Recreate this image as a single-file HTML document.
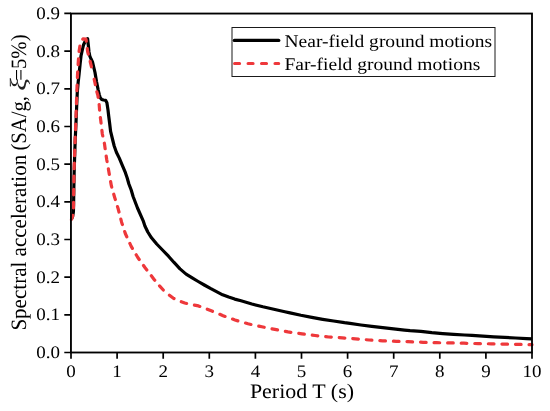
<!DOCTYPE html>
<html><head><meta charset="utf-8"><style>
html,body{margin:0;padding:0;background:#fff;}
svg{display:block;}
</style></head><body>
<svg width="550" height="411" viewBox="0 0 550 411" style="font-family:'Liberation Serif','Times New Roman',serif;text-rendering:geometricPrecision">
<rect width="550" height="411" fill="#fff"/>
<path d="M71.40,219.50 L72.60,216.50 L73.40,212.00 L73.60,205.00 L73.80,190.00 L74.20,170.00 L74.70,155.00 L75.20,140.00 L75.90,125.00 L76.60,108.00 L77.30,92.00 L78.20,82.00 L79.10,74.00 L80.10,64.00 L81.00,56.00 L82.30,50.00 L83.50,45.00 L85.30,41.00 L87.60,38.60 L88.30,45.00 L89.00,52.00 L89.80,56.00 L91.20,59.30 L92.60,62.30 L93.70,67.00 L95.00,72.50 L96.60,82.00 L98.20,90.00 L99.30,94.60 L100.10,97.40 L101.70,99.40 L103.50,100.00 L105.60,100.30 L106.90,102.80 L108.00,110.00 L108.70,116.00 L109.60,123.00 L110.60,131.40 L112.70,140.00 L114.20,146.00 L116.40,152.20 L119.30,158.10 L121.90,164.30 L125.40,172.70 L127.20,178.00 L128.90,184.00 L131.20,190.00 L133.10,196.50 L137.50,208.00 L143.20,220.80 L144.90,226.00 L147.80,232.00 L151.50,237.80 L156.70,244.00 L162.50,250.00 L168.50,256.20 L173.80,262.20 L180.00,268.90 L186.10,274.10 L192.20,277.90 L198.20,281.50 L204.30,285.00 L210.40,288.40 L216.50,291.60 L222.60,294.80 L228.70,297.10 L234.70,299.10 L241.00,300.80 L251.90,304.00 L262.90,306.80 L273.80,309.30 L284.80,311.70 L290.00,312.90 L300.90,315.30 L311.80,317.40 L322.70,319.30 L333.60,321.00 L344.50,322.70 L350.00,323.40 L360.90,325.00 L371.80,326.40 L382.70,327.70 L393.60,328.90 L404.50,330.10 L410.00,330.70 L420.90,331.30 L431.80,332.60 L442.70,333.60 L453.60,334.40 L464.50,335.00 L472.00,335.30 L482.90,336.10 L493.80,336.80 L504.70,337.40 L515.60,338.00 L526.50,338.60 L532.00,338.90" fill="none" stroke="#000" stroke-width="3.2" stroke-linejoin="round"/>
<path d="M71.40,219.50 L72.60,216.50 L73.30,212.00 L73.50,205.00 L73.70,190.00 L74.10,170.00 L74.60,155.00 L75.10,140.00 L75.70,125.00 L76.30,108.00 L76.80,92.00 L77.50,75.00 L78.20,63.00 L79.00,52.00 L80.00,45.50 L81.50,41.00 L83.00,38.80 L86.00,39.20 L86.90,45.00 L87.60,51.50 L89.00,57.00 L90.30,62.00 L92.00,69.00 L92.85,72.94" fill="none" stroke="#ee383b" stroke-width="3.2" stroke-dasharray="5.6 7.440" stroke-dashoffset="1.140" stroke-linecap="round" stroke-linejoin="round"/>
<path d="M92.85,72.94 L93.50,76.00 L95.20,84.00 L96.30,90.00 L97.90,95.50 L99.20,105.00 L99.90,114.30 L100.70,120.00 L102.30,133.80 L104.50,144.00 L105.60,152.00 L106.70,159.50 L108.40,169.00 L109.80,177.00 L111.30,185.50 L114.60,197.20 L118.30,209.30 L121.60,222.20 L125.30,233.50 L131.20,246.40 L137.80,257.50 L145.10,267.70 L154.10,279.40 L157.60,283.80 L165.10,292.00 L165.70,292.46" fill="none" stroke="#ee383b" stroke-width="3.2" stroke-dasharray="5.6 7.380" stroke-dashoffset="6.570" stroke-linecap="round" stroke-linejoin="round"/>
<path d="M165.70,292.46 L173.10,298.10 L178.30,300.70 L184.80,303.00 L191.00,304.60 L198.50,305.90 L204.00,307.90 L210.60,310.50 L223.10,315.70 L235.00,320.00 L248.00,323.80 L261.80,326.80 L274.90,329.40 L288.00,331.90 L302.00,333.90 L315.10,335.50 L328.70,337.00 L342.30,337.90 L355.50,338.80 L369.10,340.00 L382.70,340.80 L396.30,341.30 L408.00,341.60 L423.10,342.30 L436.70,342.70 L450.30,342.90 L464.00,343.20 L478.00,343.60 L491.10,343.80 L504.70,344.10 L518.30,344.40 L532.00,344.70" fill="none" stroke="#ee383b" stroke-width="3.2" stroke-dasharray="5.6 7.970" stroke-dashoffset="8.860" stroke-linecap="round" stroke-linejoin="round"/>
<rect x="70.95" y="13.55" width="461.05" height="338.95" fill="none" stroke="#000" stroke-width="1.85"/>
<path d="M64.3,352.50 H71 M64.3,314.83 H71 M64.3,277.16 H71 M64.3,239.49 H71 M64.3,201.82 H71 M64.3,164.15 H71 M64.3,126.48 H71 M64.3,88.81 H71 M64.3,51.14 H71 M64.3,13.47 H71 M71.00,352.50 V358.8 M117.10,352.50 V358.8 M163.20,352.50 V358.8 M209.30,352.50 V358.8 M255.40,352.50 V358.8 M301.50,352.50 V358.8 M347.60,352.50 V358.8 M393.70,352.50 V358.8 M439.80,352.50 V358.8 M485.90,352.50 V358.8 M532.00,352.50 V358.8" stroke="#000" stroke-width="1.7" fill="none"/>
<g fill="#000">
<text transform="translate(60.1,358.00) scale(1.08,1)" text-anchor="end" font-size="17.6">0.0</text>
<text transform="translate(60.1,320.33) scale(1.08,1)" text-anchor="end" font-size="17.6">0.1</text>
<text transform="translate(60.1,282.66) scale(1.08,1)" text-anchor="end" font-size="17.6">0.2</text>
<text transform="translate(60.1,244.99) scale(1.08,1)" text-anchor="end" font-size="17.6">0.3</text>
<text transform="translate(60.1,207.32) scale(1.08,1)" text-anchor="end" font-size="17.6">0.4</text>
<text transform="translate(60.1,169.65) scale(1.08,1)" text-anchor="end" font-size="17.6">0.5</text>
<text transform="translate(60.1,131.98) scale(1.08,1)" text-anchor="end" font-size="17.6">0.6</text>
<text transform="translate(60.1,94.31) scale(1.08,1)" text-anchor="end" font-size="17.6">0.7</text>
<text transform="translate(60.1,56.64) scale(1.08,1)" text-anchor="end" font-size="17.6">0.8</text>
<text transform="translate(60.1,18.97) scale(1.08,1)" text-anchor="end" font-size="17.6">0.9</text>
<text transform="translate(71.00,376.8) scale(1.08,1)" text-anchor="middle" font-size="17.6">0</text>
<text transform="translate(117.10,376.8) scale(1.08,1)" text-anchor="middle" font-size="17.6">1</text>
<text transform="translate(163.20,376.8) scale(1.08,1)" text-anchor="middle" font-size="17.6">2</text>
<text transform="translate(209.30,376.8) scale(1.08,1)" text-anchor="middle" font-size="17.6">3</text>
<text transform="translate(255.40,376.8) scale(1.08,1)" text-anchor="middle" font-size="17.6">4</text>
<text transform="translate(301.50,376.8) scale(1.08,1)" text-anchor="middle" font-size="17.6">5</text>
<text transform="translate(347.60,376.8) scale(1.08,1)" text-anchor="middle" font-size="17.6">6</text>
<text transform="translate(393.70,376.8) scale(1.08,1)" text-anchor="middle" font-size="17.6">7</text>
<text transform="translate(439.80,376.8) scale(1.08,1)" text-anchor="middle" font-size="17.6">8</text>
<text transform="translate(485.90,376.8) scale(1.08,1)" text-anchor="middle" font-size="17.6">9</text>
<text transform="translate(532.00,376.8) scale(1.08,1)" text-anchor="middle" font-size="17.6">10</text>
<text transform="translate(249.9,398.3) scale(1.071,1)" font-size="20.5">Period T (s)</text>
<text transform="translate(25.5,330.6) scale(1.084,1) rotate(-90) scale(1.042,1)" font-size="20.2">Spectral acceleration</text>
<text transform="translate(25.5,150.5) scale(1.084,1) rotate(-90) scale(1.02,1)" font-size="20.2">(SA/g,</text>
<text transform="translate(26.0,90.8) scale(1.084,1) rotate(-90) scale(1.37,1)" font-size="21.5" font-style="italic" fill="#222">ξ</text>
<text transform="translate(25.5,80.8) scale(1.084,1) rotate(-90) scale(1.03,1)" font-size="20.2">=5%)</text>
</g>
<rect x="232" y="27.5" width="263" height="49" fill="#fff" stroke="#1a1a1a" stroke-width="1"/>
<path d="M234.4,40.4 H278.7" stroke="#000" stroke-width="3.4" stroke-linecap="round"/>
<path d="M234.6,63.45 H278.7" stroke="#ee383b" stroke-width="3.1" stroke-dasharray="5 8.47" stroke-linecap="round"/>
<text transform="translate(284.5,46.5) scale(1.097,1)" font-size="17.8">Near-field ground motions</text>
<text transform="translate(284.5,69.8) scale(1.097,1)" font-size="17.8">Far-field ground motions</text>
</svg>
</body></html>
